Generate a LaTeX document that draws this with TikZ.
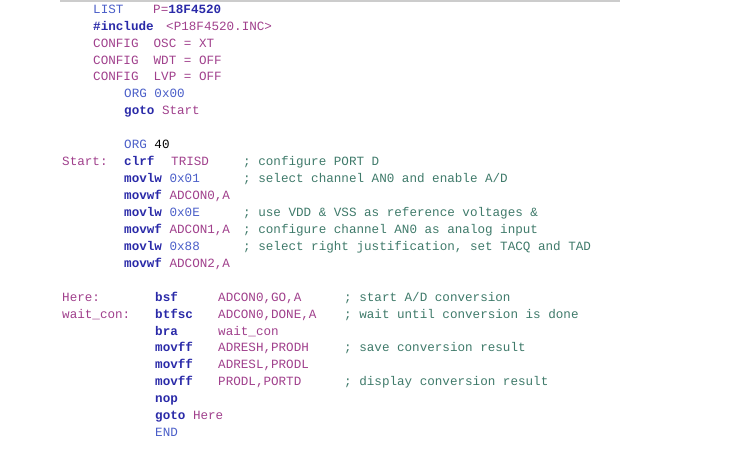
\documentclass[tikz,border=0pt]{standalone}
\usepackage{fontspec}
\setmonofont{Liberation Mono}
\definecolor{kw}{HTML}{2A2AA8}
\definecolor{dir}{HTML}{4A5EC8}
\definecolor{op}{HTML}{A0408C}
\definecolor{cm}{HTML}{3F7A6A}
\begin{document}
\begin{tikzpicture}[x=1pt,y=-1pt,
  t/.style={anchor=base west,inner sep=0pt,font=\ttfamily\fontsize{12.6}{14}\selectfont},
  k/.style={t,text=kw,font=\ttfamily\bfseries\fontsize{12.6}{14}\selectfont},
  d/.style={t,text=dir},
  o/.style={t,text=op},
  c/.style={t,text=cm}]
\useasboundingbox (0,0) rectangle (738,451);
\draw[gray!40,line width=1.5] (60,1) -- (620,1);
\def\r#1{#1+4}
% header
\node[d] at (93,13) {LIST};
\node[o] at (153,13) {P=\textbf{\color{kw}18F4520}};
\node[k] at (93,30) {\#include};
\node[o] at (166,30) {<P18F4520.INC>};
\node[o] at (93,47) {CONFIG~~OSC = XT};
\node[o] at (93,64) {CONFIG~~WDT = OFF};
\node[o] at (93,80) {CONFIG~~LVP = OFF};
\node[d] at (124,97) {ORG 0x00};
\node[k] at (124,114) {goto \textmd{\color{op}Start}};
\node[d] at (124,148) {ORG \color{black}40};
% Start block
\node[o] (start) at (62,165) {Start:};
\node[k] at (124,165) {clrf};
\node[o] at (171,165) {TRISD};
\node[c] at (243,165) {; configure PORT D};
\node[k] at (124,182) {movlw \textmd{\color{dir}0x01}};
\node[c] at (243,182) {; select channel AN0 and enable A/D};
\node[k] at (124,199) {movwf \textmd{\color{op}ADCON0,A}};
\node[k] at (124,216) {movlw \textmd{\color{dir}0x0E}};
\node[c] at (243,216) {; use VDD \& VSS as reference voltages \&};
\node[k] at (124,233) {movwf \textmd{\color{op}ADCON1,A}};
\node[c] at (243,233) {; configure channel AN0 as analog input};
\node[k] at (124,250) {movlw \textmd{\color{dir}0x88}};
\node[c] at (243,250) {; select right justification, set TACQ and TAD};
\node[k] at (124,267) {movwf \textmd{\color{op}ADCON2,A}};
% Here block
\node[o] (here) at (62,301) {Here:};
\node[k] at (155,301) {bsf};
\node[o] at (218,301) {ADCON0,GO,A};
\node[c] at (344,301) {; start A/D conversion};
\node[o] (wait) at (62,318) {wait\_con:};
\node[k] at (155,318) {btfsc};
\node[o] at (218,318) {ADCON0,DONE,A};
\node[c] at (344,318) {; wait until conversion is done};
\node[k] at (155,335) {bra};
\node[o] at (218,335) {wait\_con};
\node[k] at (155,351) {movff};
\node[o] at (218,351) {ADRESH,PRODH};
\node[c] at (344,351) {; save conversion result};
\node[k] at (155,368) {movff};
\node[o] at (218,368) {ADRESL,PRODL};
\node[k] at (155,385) {movff};
\node[o] at (218,385) {PRODL,PORTD};
\node[c] at (344,385) {; display conversion result};
\node[k] at (155,402) {nop};
\node[k] at (155,419) {goto \textmd{\color{op}Here}};
\node[d] at (155,436) {END};
\end{tikzpicture}
\end{document}
